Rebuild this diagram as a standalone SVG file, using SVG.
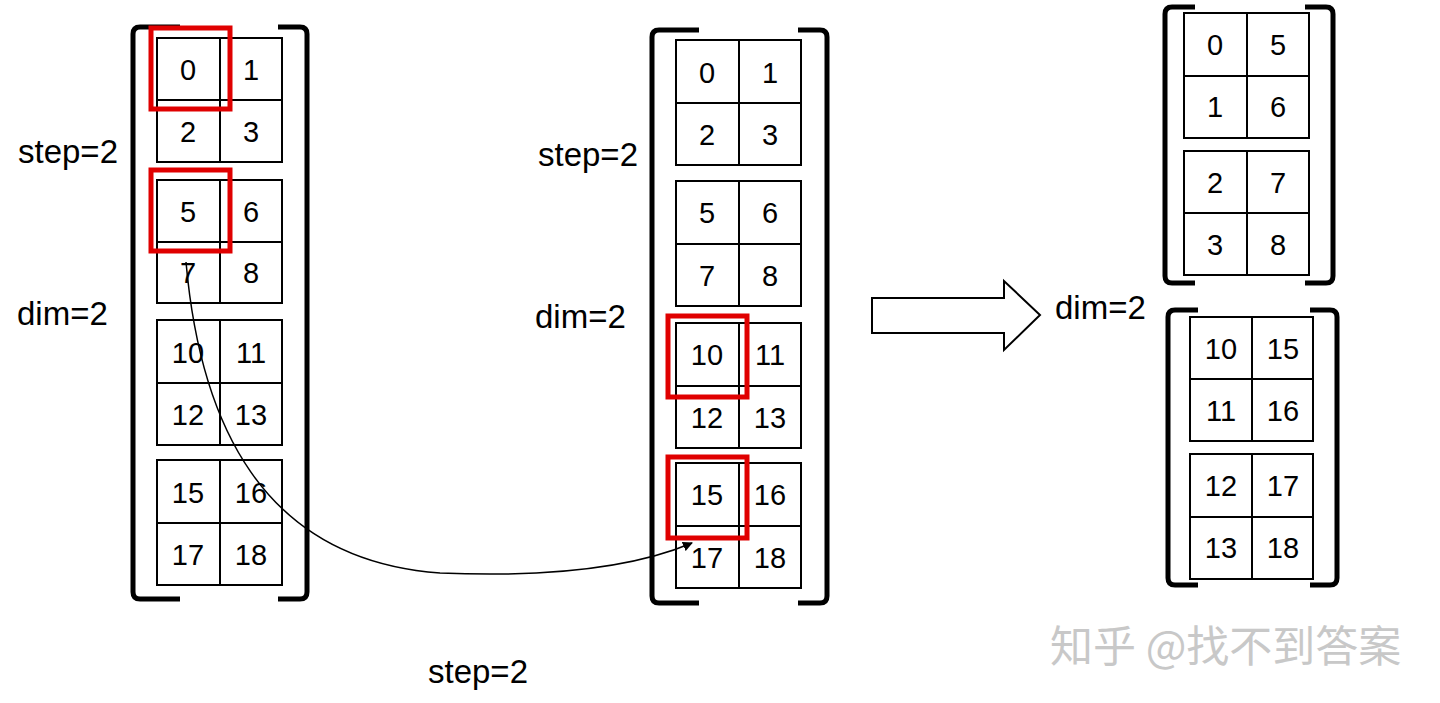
<svg xmlns="http://www.w3.org/2000/svg" width="1440" height="703" viewBox="0 0 1440 703">
<defs>
<style>
.c{fill:#fff;stroke:#000;stroke-width:2}
.t{font-family:"Liberation Sans",Arial,sans-serif;font-size:29px;text-anchor:middle;dominant-baseline:central}
.l{font-family:"Liberation Sans",Arial,sans-serif;font-size:33px}
.b{fill:none;stroke:#000;stroke-width:5}
.r{fill:none;stroke:#e00000;stroke-width:5}
</style>
<marker id="ah" markerWidth="10" markerHeight="10" refX="9" refY="5" orient="auto" markerUnits="userSpaceOnUse"><path d="M0,0 L10,5 L0,10 Z" fill="#000"/></marker>
</defs>
<rect width="1440" height="703" fill="#fff"/>
<g id="left">
<path class="b" d="M180,27 L140,27 Q133,27 133,34 L133,592 Q133,599 140,599 L180,599"/>
<path class="b" d="M278,27 L300,27 Q307,27 307,34 L307,592 Q307,599 300,599 L278,599"/>
<g class="c"><rect x="157" y="38" width="63" height="62"/><rect x="220" y="38" width="62" height="62"/><rect x="157" y="100" width="63" height="62"/><rect x="220" y="100" width="62" height="62"/>
<rect x="157" y="180" width="63" height="62"/><rect x="220" y="180" width="62" height="62"/><rect x="157" y="242" width="63" height="61"/><rect x="220" y="242" width="62" height="61"/>
<rect x="157" y="320" width="63" height="63"/><rect x="220" y="320" width="62" height="63"/><rect x="157" y="383" width="63" height="62"/><rect x="220" y="383" width="62" height="62"/>
<rect x="157" y="460" width="63" height="63"/><rect x="220" y="460" width="62" height="63"/><rect x="157" y="523" width="63" height="62"/><rect x="220" y="523" width="62" height="62"/></g>
<g class="t"><text x="188" y="70">0</text><text x="251" y="70">1</text><text x="188" y="132">2</text><text x="251" y="132">3</text>
<text x="188" y="212">5</text><text x="251" y="212">6</text><text x="188" y="273">7</text><text x="251" y="273">8</text>
<text x="188" y="353">10</text><text x="251" y="353">11</text><text x="188" y="415">12</text><text x="251" y="415">13</text>
<text x="188" y="493">15</text><text x="251" y="493">16</text><text x="188" y="555">17</text><text x="251" y="555">18</text></g>
<rect class="r" x="151" y="28" width="79" height="81"/><rect class="r" x="151" y="170" width="79" height="81"/>
</g>
<g id="middle">
<path class="b" d="M699,30 L659,30 Q652,30 652,37 L652,596 Q652,603 659,603 L699,603"/>
<path class="b" d="M798,30 L820,30 Q827,30 827,37 L827,596 Q827,603 820,603 L798,603"/>
<g class="c"><rect x="676" y="40" width="63" height="63"/><rect x="739" y="40" width="62" height="63"/><rect x="676" y="103" width="63" height="62"/><rect x="739" y="103" width="62" height="62"/>
<rect x="676" y="181" width="63" height="63"/><rect x="739" y="181" width="62" height="63"/><rect x="676" y="244" width="63" height="62"/><rect x="739" y="244" width="62" height="62"/>
<rect x="676" y="323" width="63" height="63"/><rect x="739" y="323" width="62" height="63"/><rect x="676" y="386" width="63" height="62"/><rect x="739" y="386" width="62" height="62"/>
<rect x="676" y="463" width="63" height="63"/><rect x="739" y="463" width="62" height="63"/><rect x="676" y="526" width="63" height="62"/><rect x="739" y="526" width="62" height="62"/></g>
<g class="t"><text x="707" y="73">0</text><text x="770" y="73">1</text><text x="707" y="135">2</text><text x="770" y="135">3</text>
<text x="707" y="213">5</text><text x="770" y="213">6</text><text x="707" y="276">7</text><text x="770" y="276">8</text>
<text x="707" y="355">10</text><text x="770" y="355">11</text><text x="707" y="418">12</text><text x="770" y="418">13</text>
<text x="707" y="495">15</text><text x="770" y="495">16</text><text x="707" y="558">17</text><text x="770" y="558">18</text></g>
<rect class="r" x="668" y="316" width="79" height="81"/><rect class="r" x="668" y="457" width="79" height="81"/>
</g>
<g id="right-top">
<path class="b" d="M1195,7 L1172,7 Q1165,7 1165,14 L1165,276 Q1165,283 1172,283 L1195,283"/>
<path class="b" d="M1305,7 L1326,7 Q1333,7 1333,14 L1333,276 Q1333,283 1326,283 L1305,283"/>
<g class="c"><rect x="1184" y="13" width="63" height="63"/><rect x="1247" y="13" width="62" height="63"/><rect x="1184" y="76" width="63" height="62"/><rect x="1247" y="76" width="62" height="62"/>
<rect x="1184" y="151" width="63" height="62"/><rect x="1247" y="151" width="62" height="62"/><rect x="1184" y="213" width="63" height="62"/><rect x="1247" y="213" width="62" height="62"/></g>
<g class="t"><text x="1215" y="45">0</text><text x="1278" y="45">5</text><text x="1215" y="107">1</text><text x="1278" y="107">6</text>
<text x="1215" y="183">2</text><text x="1278" y="183">7</text><text x="1215" y="245">3</text><text x="1278" y="245">8</text></g>
</g>
<g id="right-bottom">
<path class="b" d="M1198,310 L1175,310 Q1168,310 1168,317 L1168,578 Q1168,585 1175,585 L1198,585"/>
<path class="b" d="M1310,310 L1330,310 Q1337,310 1337,317 L1337,578 Q1337,585 1330,585 L1310,585"/>
<g class="c"><rect x="1190" y="317" width="62" height="62"/><rect x="1252" y="317" width="61" height="62"/><rect x="1190" y="379" width="62" height="62"/><rect x="1252" y="379" width="61" height="62"/>
<rect x="1190" y="454" width="62" height="63"/><rect x="1252" y="454" width="61" height="63"/><rect x="1190" y="517" width="62" height="62"/><rect x="1252" y="517" width="61" height="62"/></g>
<g class="t"><text x="1221" y="349">10</text><text x="1283" y="349">15</text><text x="1221" y="411">11</text><text x="1283" y="411">16</text>
<text x="1221" y="486">12</text><text x="1283" y="486">17</text><text x="1221" y="548">13</text><text x="1283" y="548">18</text></g>
</g>
<g id="connectors">
<path d="M186,262 C200,420 260,560 440,573 C560,578 640,565 692,543" fill="none" stroke="#000" stroke-width="1.5" marker-end="url(#ah)"/>
<path d="M872,298 L1004,298 L1004,281 L1040,315 L1004,350 L1004,333 L872,333 Z" fill="#fff" stroke="#000" stroke-width="2"/>
</g>
<g id="labels" class="l">
<text x="18" y="163">step=2</text><text x="17" y="325">dim=2</text>
<text x="538" y="166">step=2</text><text x="535" y="328">dim=2</text>
<text x="1055" y="319">dim=2</text><text x="428" y="683">step=2</text>
</g>
<text x="1050" y="662" font-family="'Noto Sans CJK SC',sans-serif" font-size="43" fill="#c8c8c8">知乎 @找不到答案</text>
</svg>
